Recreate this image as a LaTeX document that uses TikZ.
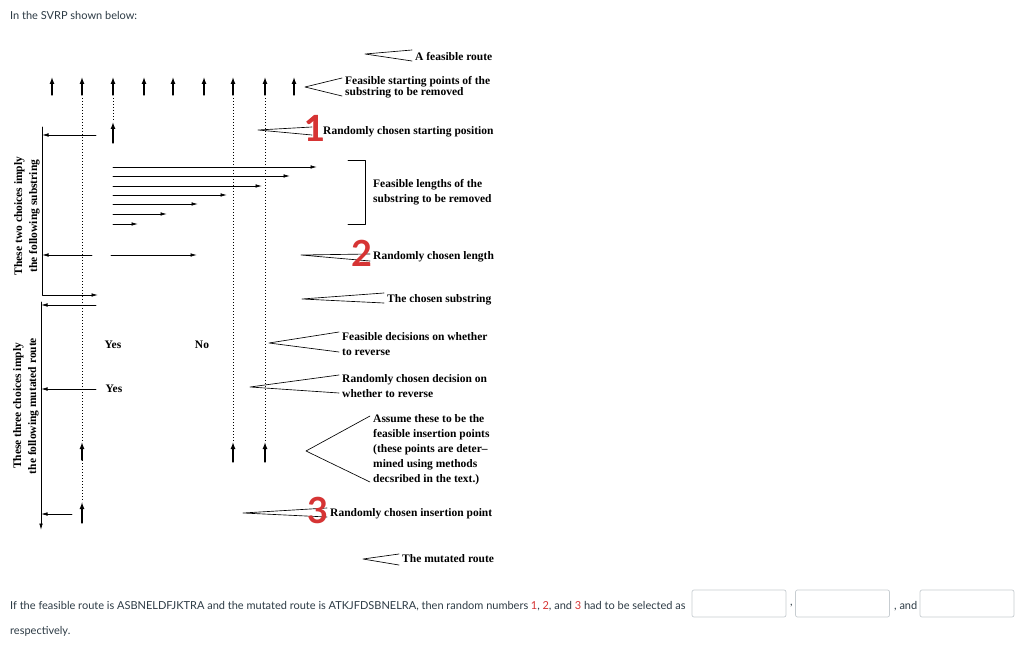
\documentclass[tikz,border=0pt]{standalone}
\usepackage{fontspec}
\setmainfont{Liberation Serif}
\newfontfamily\latofont{Lato}
\usetikzlibrary{arrows.meta}

\definecolor{numred}{RGB}{214,52,52}
\definecolor{textgray}{RGB}{45,59,69}
\definecolor{boxgray}{RGB}{199,205,209}

\begin{document}
\begin{tikzpicture}[
			x=1pt, y=-1pt,
			every node/.style={font=\fontsize{11.5}{15}\selectfont\bfseries, inner sep=0pt},
			line cap=round,
			line join=round,
			arr/.style={-{Latex[length=6.5pt,width=3.6pt]}, line width=0.75pt},
			uparr/.style={-{Latex[length=7pt,width=5pt]}, line width=1.3pt},
			dots/.style={line width=0.9pt, line cap=butt, dash pattern=on 0.9pt off 2.1pt},
			ptr/.style={line width=0.65pt},
			lbl/.style={anchor=west, align=left, inner xsep=3pt},
			bignum/.style={font=\latofont\fontsize{36}{36}\selectfont\bfseries, text=numred},
			qtext/.style={font=\latofont\fontsize{11}{13}\selectfont, text=textgray, anchor=west},
			ansbox/.style={draw=boxgray, rounded corners=2pt, minimum width=94pt, minimum height=27pt, line width=0.7pt}
			]
			\fill[white] (0,0) rectangle (1024,668);
			\useasboundingbox (0,0) rectangle (1024,668);
			
			\node[qtext] (head) at (10,15) {In the SVRP shown below:};
			
			% route and dotted guides
			\foreach \x in {52,82,113,144,173,204,233,265,294}
			{
				\draw[uparr] (\x,95) -- (\x,77);
			}
			\draw[dots] (82,98) -- (82,442);
			\draw[dots] (82,460) -- (82,502);
			\draw[dots] (113,98) -- (113,121);
			\draw[dots] (233,98) -- (233,442);
			\draw[dots] (265,98) -- (265,442);
			
			% substring part
			\draw[arr] (42,127) -- (42,295) -- (98,295);
			\draw[arr] (96,135) -- (42,135);
			\draw[uparr] (113,143) -- (113,122);
			\foreach \y/\e in {167/317,176/290,186/262,195/227,204/198,214/167,224/138}
			{
				\draw[arr] (113,\y) -- (\e,\y);
			}
			\draw[arr] (92,255) -- (42,255);
			\draw[arr] (111,255) -- (197,255);
			\node[rotate=90, align=center] (subtxt) at (27,216) {These two choices imply\\the following substring};
			
			% mutated route part
			\draw[arr] (41,302) -- (41,530);
			\draw[arr] (96,305) -- (41,305);
			\draw[arr] (96,389) -- (41,389);
			\draw[arr] (72,514) -- (41,514);
			\node (yes1) at (113,345) {Yes};
			\node (no1) at (202,345) {No};
			\node (yes2) at (114,389) {Yes};
			\draw[uparr] (82,460) -- (82,442);
			\draw[uparr] (82,523) -- (82,502);
			\draw[uparr] (233,462) -- (233,442);
			\draw[uparr] (265,462) -- (265,442);
			\node[rotate=90, align=center] (muttxt) at (26,406) {These three choices imply\\the following mutated route};
			
			% labels on the right
			\node[lbl] (route) at (412,57) {A feasible route};
			\coordinate (vroute) at (365,54);
			\draw[ptr] ([yshift=7pt]route.west) -- (vroute) -- ([yshift=-4pt]route.west);
			
			\node[lbl, font=\fontsize{11.5}{11}\selectfont\bfseries] (startpts) at (342,87.5) {Feasible starting points of the\\substring to be removed};
			\coordinate (vstart) at (305,87);
			\draw[ptr] ([yshift=9.5pt]startpts.west) -- (vstart) -- ([yshift=-8.5pt]startpts.west);
			
			\node[lbl] (startpos) at (320,132) {Randomly chosen starting position};
			\coordinate (vpos) at (258,130);
			\node[bignum] (one) at (315,128) {1};
			\draw[ptr] ([xshift=-3pt,yshift=1pt]one.center) -- (vpos) -- ([xshift=-3pt,yshift=-7pt]one.center);
			\node[bignum] at (one) {1};
			
			\draw[line width=0.8pt] (348,160) -- (365,160) -- (365,224) -- (348,224);
			\node[lbl] (lengths) at (370,192.5) {Feasible lengths of the\\substring to be removed};
			
			\node[lbl] (chosenlen) at (370,257) {Randomly chosen length};
			\coordinate (vlen) at (301,255);
			\draw[ptr] ([yshift=3pt]chosenlen.west) -- (vlen) -- ([yshift=-4pt]chosenlen.west);
			\node[bignum] (two) at (362,253) {2};
			
			\node[lbl] (substr) at (384,300) {The chosen substring};
			\coordinate (vsub) at (302,299);
			\draw[ptr] ([yshift=7pt]substr.west) -- (vsub) -- ([yshift=-3pt]substr.west);
			
			\node[lbl] (decs) at (339,344.5) {Feasible decisions on whether\\to reverse};
			\coordinate (vdec) at (269,343);
			\draw[ptr] ([yshift=12.5pt]decs.west) -- (vdec) -- ([yshift=-7.5pt]decs.west);
			
			\node[lbl] (rdec) at (339,386.5) {Randomly chosen decision on\\whether to reverse};
			\coordinate (vrdec) at (250,387);
			\draw[ptr] ([yshift=11.5pt]rdec.west) -- (vrdec) -- ([yshift=-6.5pt]rdec.west);
			
			\node[lbl] (inspts) at (370,450) {Assume these to be the\\feasible insertion points\\(these points are deter--\\mined using methods\\decsribed in the text.)};
			\coordinate (vins) at (306,451);
			\draw[ptr] ([yshift=34pt]inspts.west) -- (vins) -- ([yshift=-32pt]inspts.west);
			
			\node[lbl] (inspoint) at (327,514) {Randomly chosen insertion point};
			\coordinate (vinspt) at (243,513);
			\draw[ptr] ([yshift=6pt]inspoint.west) -- (vinspt) -- ([yshift=-3pt]inspoint.west);
			\node[bignum] (three) at (318,510) {3};
			
			\node[lbl] (mutated) at (399,559) {The mutated route};
			\coordinate (vmut) at (363,559);
			\draw[ptr] ([yshift=5pt]mutated.west) -- (vmut) -- ([yshift=-6pt]mutated.west);
			
			% question text
			\node[qtext] (question) at (10,606) {If the feasible route is ASBNELDFJKTRA and the mutated route is ATKJFDSBNELRA, then random numbers \textcolor{numred}{1}, \textcolor{numred}{2}, and \textcolor{numred}{3} had to be selected as};
			\node[ansbox] (ans1) at (739,603.5) {};
			\node[qtext] (comma) at (790,606) {,};
			\node[ansbox] (ans2) at (842.5,603.5) {};
			\node[qtext] (andtxt) at (894,606) {, and};
			\node[ansbox] (ans3) at (967,603.5) {};
			\node[qtext] (resp) at (10,631) {respectively.};
		\end{tikzpicture}
\end{document}
